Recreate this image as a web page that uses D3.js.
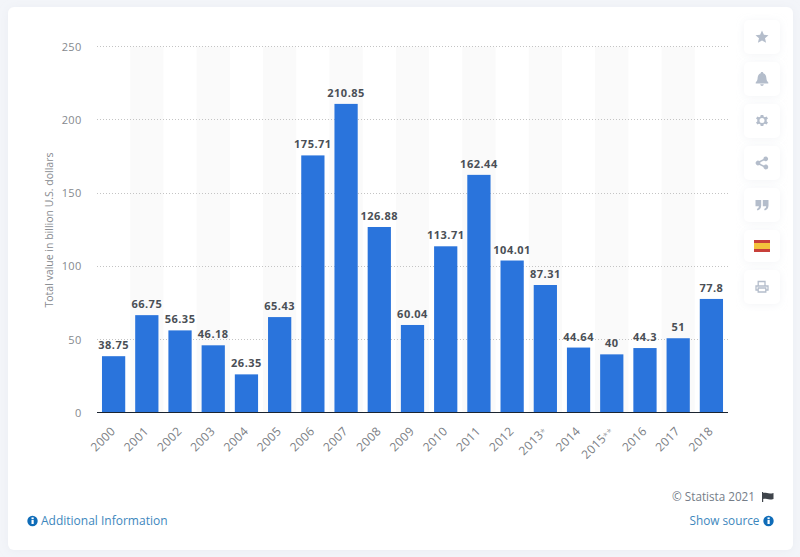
<!DOCTYPE html>
<html>
<head>
<meta charset="utf-8">
<script src="https://cdn.jsdelivr.net/npm/d3@7"></script>
<style>
html,body{margin:0;padding:0;background:#f3f5f9;}
svg{display:block;font-family:"Open Sans",sans-serif;}
</style>
</head>
<body>
<svg id="chart" width="800" height="557"></svg>
<script>
const years = ["2000","2001","2002","2003","2004","2005","2006","2007","2008","2009","2010","2011","2012","2013*","2014","2015**","2016","2017","2018"];
const values = [38.75,66.75,56.35,46.18,26.35,65.43,175.71,210.85,126.88,60.04,113.71,162.44,104.01,87.31,44.64,40,44.3,51,77.8];
const valueTicks = [0,50,100,150,200,250];
const axisTitle = "Total value in billion U.S. dollars";

const svg = d3.select("#chart");
const defs = svg.append("defs");
const soft = defs.append("filter").attr("id","soft").attr("x","-20%").attr("y","-20%").attr("width","140%").attr("height","140%");
soft.append("feDropShadow").attr("dx",0).attr("dy",1).attr("stdDeviation",4).attr("flood-color","#d5dae3").attr("flood-opacity",0.3);

// white card holding the chart
svg.append("rect").attr("x",8).attr("y",7).attr("width",785).attr("height",543).attr("rx",6)
  .attr("fill","#fff").attr("filter","url(#soft)");

const x = d3.scaleBand().domain(years).range([97,728]).paddingInner(0.3).paddingOuter(0.15);
const y = d3.scaleLinear().domain([0,250]).range([413,46.5]);
const step = x.step();

// alternating column stripes
svg.append("g").selectAll("rect").data(years.filter((d,i)=>i%2===1)).join("rect")
  .attr("x",d=>x(d)+x.bandwidth()/2-step/2).attr("width",step)
  .attr("y",y(250)).attr("height",y(0)-y(250)).attr("fill","#fafafa");

// horizontal grid
svg.append("g").selectAll("line").data(valueTicks.filter(d=>d>0)).join("line")
  .attr("x1",97).attr("x2",728).attr("y1",d=>Math.floor(y(d))+0.5).attr("y2",d=>Math.floor(y(d))+0.5)
  .attr("stroke","#c4c4c4").attr("stroke-width",1).attr("stroke-dasharray","1 2");

// bars
svg.append("g").selectAll("rect").data(years).join("rect")
  .attr("x",d=>x(d)).attr("width",x.bandwidth())
  .attr("y",(d,i)=>y(values[i])).attr("height",(d,i)=>y(0)-y(values[i]))
  .attr("fill","#2a74dc");

// baseline
svg.append("line").attr("x1",97).attr("x2",728).attr("y1",412.5).attr("y2",412.5).attr("stroke","#1b2430").attr("stroke-width",1);

// value labels
svg.append("g").selectAll("text").data(years).join("text")
  .attr("x",d=>x(d)+x.bandwidth()/2).attr("y",(d,i)=>y(values[i])-7)
  .attr("text-anchor","middle").attr("font-size",11).attr("font-weight",700).attr("fill","#4a4f56")
  .attr("letter-spacing",0.5).text((d,i)=>values[i]);

// y axis tick labels
const yAxis = svg.append("g").attr("transform","translate(81.5,0)")
  .call(d3.axisLeft(y).tickValues(valueTicks).tickSize(0).tickPadding(0));
yAxis.select(".domain").remove();
yAxis.selectAll("text").attr("font-family","'Open Sans',sans-serif").attr("font-size",11).attr("fill","#85898e").attr("letter-spacing",0.3);

// x axis tick labels, rotated; footnote asterisks are set small and raised
const xAxis = svg.append("g").attr("transform","translate(0,412)")
  .call(d3.axisBottom(x).tickSize(0).tickPadding(0));
xAxis.select(".domain").remove();
xAxis.selectAll("text")
  .attr("font-family","'Open Sans',sans-serif").attr("font-size",12).attr("fill","#7b8085")
  .attr("letter-spacing",0.3).attr("text-anchor","end").attr("dy",0)
  .attr("transform","translate(2.5,20) rotate(-45)")
  .each(function(d){
    const label = d3.select(this).text(null);
    label.append("tspan").text(d.replace(/\*/g,""));
    const stars = d.replace(/[^*]/g,"");
    if (stars) label.append("tspan").attr("font-size",9).attr("fill","#a3a7ab").text(stars);
  });

// y axis title
svg.append("text").attr("transform","translate(53,230) rotate(-90)")
  .attr("text-anchor","middle").attr("font-size",10.5).attr("fill","#85898e").text(axisTitle);

// footer
const infoIcon = (cx,cy)=>{
  const g = svg.append("g").attr("transform",`translate(${cx},${cy})`);
  g.append("circle").attr("r",5.2).attr("fill","#0f6cb8");
  g.append("rect").attr("x",-1).attr("y",-1).attr("width",2.2).attr("height",4).attr("fill","#fff");
  g.append("rect").attr("x",-1).attr("y",-3.6).attr("width",2.2).attr("height",1.8).attr("fill","#fff");
};
infoIcon(32.5,521);
svg.append("text").attr("x",41).attr("y",525).attr("font-size",12).attr("fill","#3d87bd").text("Additional Information");
svg.append("text").attr("x",755).attr("y",501).attr("text-anchor","end").attr("font-size",11.7).attr("fill","#757d88").text("© Statista 2021");
svg.append("path").attr("transform","translate(762,492)")
  .attr("d","M0 0H1.2V10H0ZM1.2 1C4 0 6 2.5 11.5 1V7C6 8.5 4 6 1.2 7Z").attr("fill","#3f444b");
svg.append("text").attr("x",759.5).attr("y",525).attr("text-anchor","end").attr("font-size",11.8).attr("fill","#3d87bd").text("Show source");
infoIcon(768.5,521);

// right-hand tool buttons
const buttonTops = [20,62,104,146,188,230,270];
const iconColor = "#b4bdcb";
svg.append("g").selectAll("rect").data(buttonTops).join("rect")
  .attr("x",744).attr("y",d=>d).attr("width",36).attr("height",(d,i)=>i===5?32:34).attr("rx",5)
  .attr("fill","#fff").attr("filter","url(#soft)");

const iconPaths = [
  [762,37,"M0 -6.5L1.9 -2.2L6.5 -1.8L3 1.2L4.1 5.8L0 3.4L-4.1 5.8L-3 1.2L-6.5 -1.8L-1.9 -2.2Z"],
  [762,79,"M0 -7C.9 -7 1.3 -6.4 1.3 -5.8C3.6 -5.1 4.3 -3 4.4 -.8C4.5 1.2 5.2 2.3 6.3 3.4V4.4H-6.3V3.4C-5.2 2.3 -4.5 1.2 -4.4 -.8C-4.3 -3 -3.6 -5.1 -1.3 -5.8C-1.3 -6.4 -.9 -7 0 -7ZM-1.8 5.2H1.8C1.6 6.3 .9 6.9 0 6.9C-.9 6.9 -1.6 6.3 -1.8 5.2Z"],
  [762,121,"M-1.3 -6H1.3L1.7 -4.3L3 -3.7L4.6 -4.6L6 -2.6L4.7 -1.4V.4L6 1.6L4.6 3.6L3 2.7L1.7 3.3L1.3 5H-1.3L-1.7 3.3L-3 2.7L-4.6 3.6L-6 1.6L-4.7 .4V-1.4L-6 -2.6L-4.6 -4.6L-3 -3.7L-1.7 -4.3ZM0 -3A2.5 2.5 0 1 0 0 2A2.5 2.5 0 1 0 0 -3Z"],
  [762,163,"M3.8 -6.5A2.4 2.4 0 1 1 2 -2.4L-1.7 -.7A2.4 2.4 0 0 1 -1.7 .7L2 2.4A2.4 2.4 0 1 1 1.4 3.9L-2.6 2A2.4 2.4 0 1 1 -2.6 -2L1.4 -3.9A2.4 2.4 0 0 1 3.8 -6.5Z"],
  [762,205,"M-6.5 -5H-.8V.5C-.8 3 -2.2 5 -4.5 5.5L-5.2 4C-3.9 3.5 -3.2 2.6 -3.1 1.3H-6.5ZM.8 -5H6.5V.5C6.5 3 5.1 5 2.8 5.5L2.1 4C3.4 3.5 4.1 2.6 4.2 1.3H.8Z"]
];
svg.append("g").selectAll("path").data(iconPaths).join("path")
  .attr("transform",d=>`translate(${d[0]},${d[1]})`).attr("d",d=>d[2]).attr("fill",iconColor).attr("fill-rule","evenodd");

// language flag
const flag = svg.append("g").attr("transform","translate(754,240)");
flag.append("rect").attr("width",16).attr("height",12).attr("fill","#c8403a");
flag.append("rect").attr("y",3).attr("width",16).attr("height",6).attr("fill","#f3c33c");

// printer
const pr = svg.append("g").attr("transform","translate(762,287)").attr("fill","none").attr("stroke",iconColor).attr("stroke-width",1.3);
pr.append("path").attr("d","M-3.8 -1V-5.5H3V-1M-3.8 3H-6V-1H6V3H3.8M-3.8 1H3.8V5H-3.8Z");
</script>
</body>
</html>
